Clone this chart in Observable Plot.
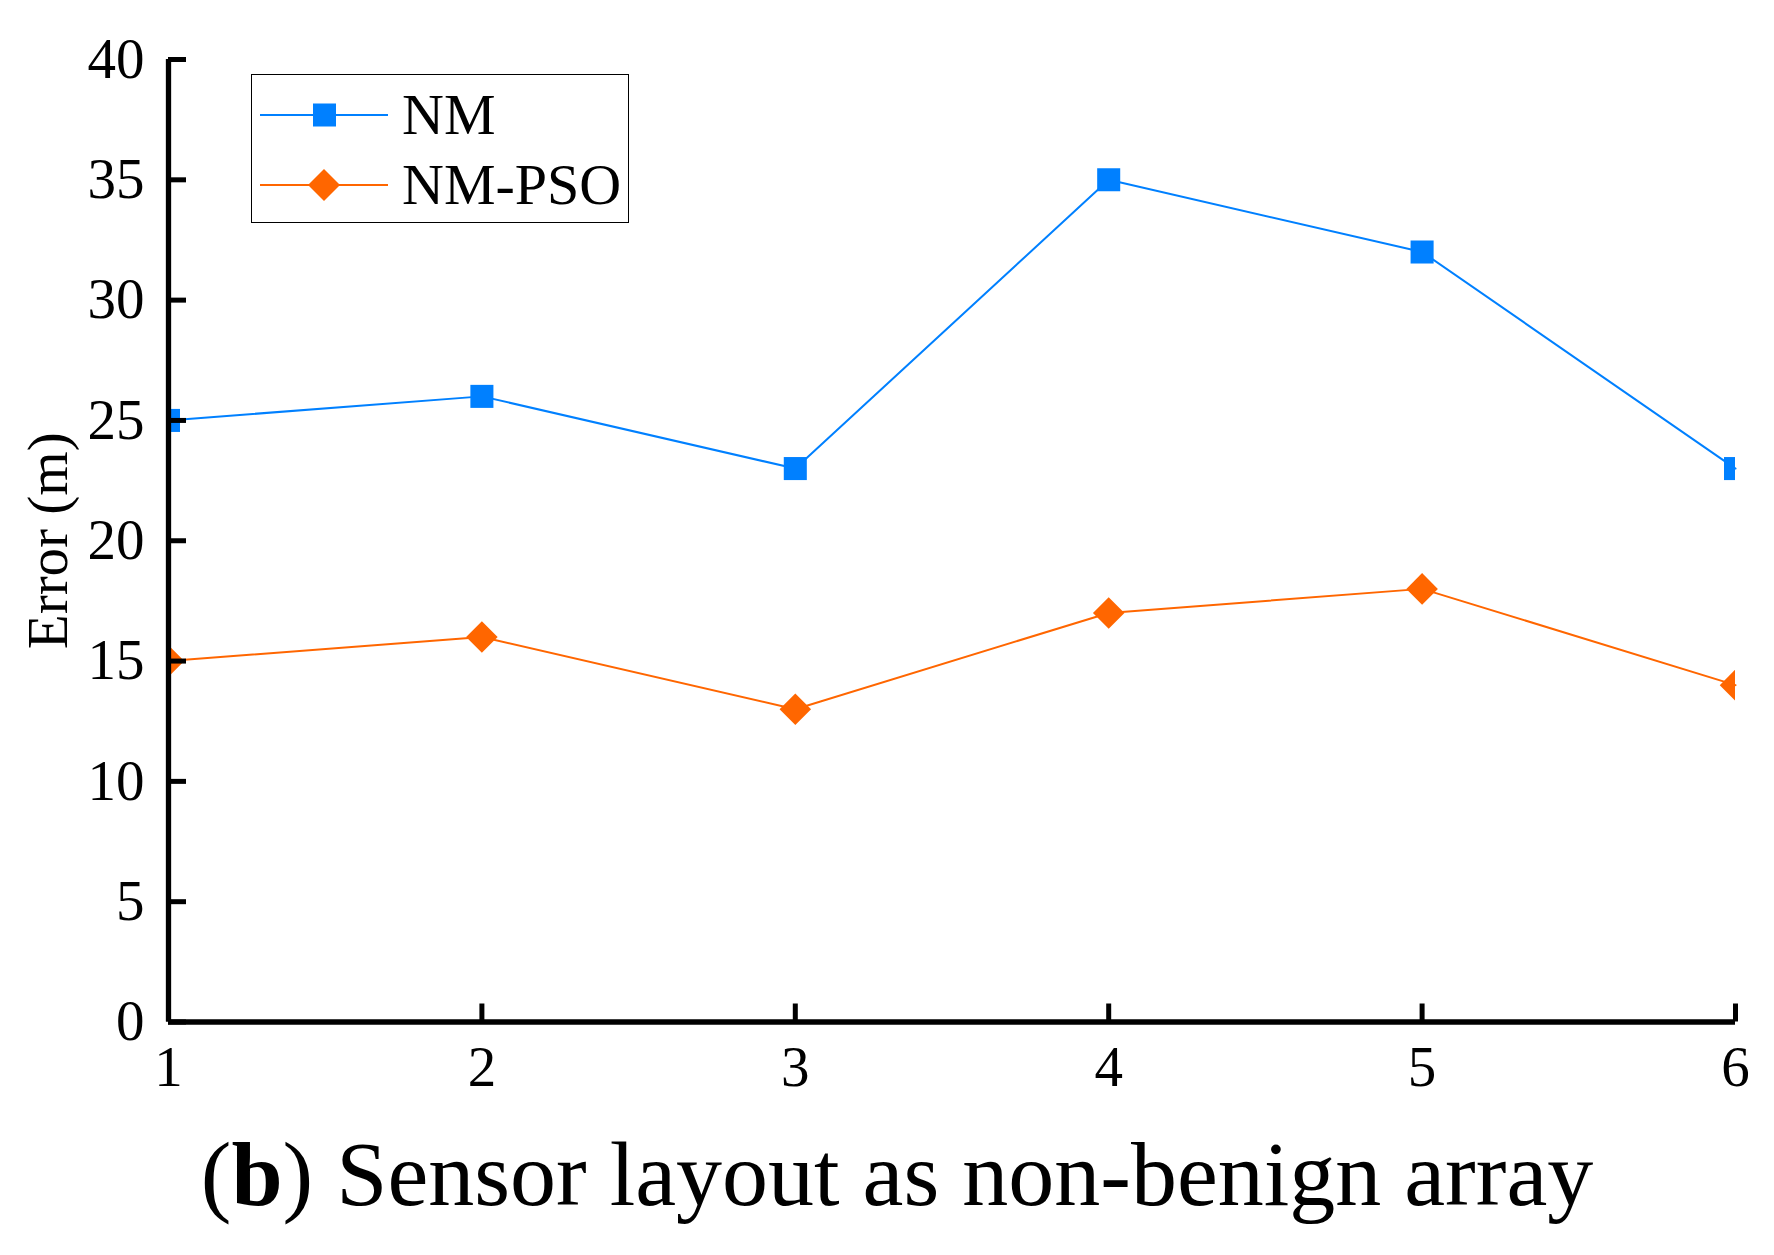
<!DOCTYPE html>
<html>
<head>
<meta charset="utf-8">
<script src="https://cdn.jsdelivr.net/npm/d3@7"></script>
<script src="https://cdn.jsdelivr.net/npm/@observablehq/plot@0.6"></script>
<style>
  html, body { margin: 0; padding: 0; background: white; }
  #wrap { position: relative; width: 1774px; height: 1255px; background: white; font-family: "Liberation Serif", "Times New Roman", serif; }
  #legend { position: absolute; left: 251px; top: 74px; width: 378px; height: 149px; border: 1.5px solid black; background: white; box-sizing: border-box; }
  .row { position: absolute; left: 0; height: 70px; width: 100%; }
  .row svg { position: absolute; left: 6px; top: 0; }
  .row span { position: absolute; left: 150px; font-size: 58px; line-height: 70px; top: 0; color: black; }
  #caption { position: absolute; left: 0; width: 1794px; text-align: center; top: 1128px; font-size: 92px; line-height: 1; color: black; white-space: nowrap; }
</style>
</head>
<body>
<div id="wrap"></div>
<script>
const categories = [1, 2, 3, 4, 5, 6];
const nmValues = [25, 26, 23, 35, 32, 23];
const nmPsoValues = [15, 16, 13, 17, 18, 14];
const yTicks = [0, 5, 10, 15, 20, 25, 30, 35, 40];
const xTicks = [1, 2, 3, 4, 5, 6];
const seriesNames = ["NM", "NM-PSO"];
const seriesColors = ["#0080FF", "#FF6600"];
const yLabel = "Error (m)";
const captionBold = "b";
const captionText = " Sensor layout as non-benign array";

const data = [];
categories.forEach((c, i) => {
  data.push({x: c, y: nmValues[i], s: seriesNames[0]});
  data.push({x: c, y: nmPsoValues[i], s: seriesNames[1]});
});
const nm = data.filter(d => d.s === seriesNames[0]);
const pso = data.filter(d => d.s === seriesNames[1]);

const W = 1774, H = 1120, mL = 168, mR = 39, mT = 59, mB = 98.5;
const tickLen = 18;

const chart = Plot.plot({
  width: W,
  height: H,
  marginLeft: mL,
  marginRight: mR,
  marginTop: mT,
  marginBottom: mB,
  style: {fontFamily: "Liberation Serif, Times New Roman, serif", fontSize: "57px", background: "white", color: "black", overflow: "visible"},
  x: {domain: [1, 6]},
  y: {domain: [0, 40]},
  marks: [
    Plot.line(nm, {x: "x", y: "y", stroke: seriesColors[0], strokeWidth: 2}),
    Plot.line(pso, {x: "x", y: "y", stroke: seriesColors[1], strokeWidth: 2}),
    Plot.dot(nm, {x: "x", y: "y", symbol: "square", r: 13, fill: seriesColors[0], stroke: "none", clip: true}),
    Plot.dot(pso, {x: "x", y: "y", symbol: "diamond2", r: 14.2, fill: seriesColors[1], stroke: "none", clip: true}),
    // inward ticks
    Plot.tickY(yTicks, {y: d => d, stroke: "black", strokeWidth: 5, insetRight: (W - mL - mR) - tickLen}),
    Plot.tickX(xTicks, {x: d => d, stroke: "black", strokeWidth: 5, insetTop: (H - mT - mB) - tickLen}),
    Plot.ruleX([1], {stroke: "black", strokeWidth: 5.3}),
    Plot.ruleY([0], {stroke: "black", strokeWidth: 5.3}),
    Plot.axisY({ticks: yTicks, tickSize: 0, tickPadding: 24, label: null, tickFormat: d => String(d)}),
    Plot.axisX({ticks: xTicks, tickSize: 0, tickPadding: 24, label: null, tickFormat: d => String(d)}),
    Plot.text([yLabel], {frameAnchor: "left", textAnchor: "middle", rotate: -90, dx: -120, fontSize: 57, fill: "black"})
  ]
});

const wrap = document.getElementById("wrap");
chart.style.position = "absolute";
chart.style.left = "0px";
chart.style.top = "0px";
wrap.appendChild(chart);

// Legend
const legend = document.createElement("div");
legend.id = "legend";
const symbolsSvg = [
  (c) => `<svg width="140" height="70"><line x1="2" y1="40" x2="130" y2="40" stroke="${c}" stroke-width="2"/><rect x="55" y="28.5" width="23" height="23" fill="${c}"/></svg>`,
  (c) => `<svg width="140" height="70"><line x1="2" y1="40" x2="130" y2="40" stroke="${c}" stroke-width="2"/><path d="M66,24 L82,40 L66,56 L50,40 Z" fill="${c}"/></svg>`
];
seriesNames.forEach((name, i) => {
  const row = document.createElement("div");
  row.className = "row";
  row.style.top = (i * 70) + "px";
  row.innerHTML = symbolsSvg[i](seriesColors[i]) + `<span style="top:5px">${name}</span>`;
  legend.appendChild(row);
});
wrap.appendChild(legend);

// Caption
const cap = document.createElement("div");
cap.id = "caption";
cap.innerHTML = `(<b>${captionBold}</b>)${captionText}`;
wrap.appendChild(cap);
</script>
</body>
</html>
